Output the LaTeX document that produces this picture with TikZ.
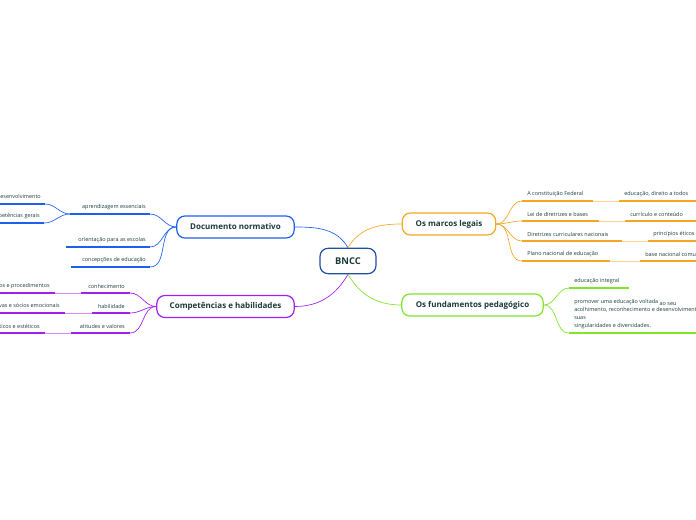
\documentclass[tikz,border=0pt]{standalone}
\usepackage{fontspec}
\setmainfont{Open Sans}
\definecolor{cblue}{HTML}{1F5FF0}
\definecolor{cpur}{HTML}{A020F0}
\definecolor{cora}{HTML}{F5A623}
\definecolor{cgre}{HTML}{7FE52A}
\definecolor{ctxt}{HTML}{1A3A3A}
\definecolor{cbn}{HTML}{1F4FA0}
\begin{document}
\begin{tikzpicture}[x=0.75pt,y=-0.75pt,
  main/.style={draw=#1,line width=0.9pt,rounded corners=6pt,fill=white,text=ctxt,font=\fontsize{6}{7}\selectfont\bfseries,minimum height=16.5pt,inner xsep=9pt},
  lt/.style={anchor=south east,inner sep=0pt,text=ctxt,font=\fontsize{4.1}{5.6}\selectfont},
  rt/.style={anchor=south west,inner sep=0pt,text=ctxt,font=\fontsize{4.1}{5.6}\selectfont},
  ul/.style={draw=#1,line width=1.5pt},
  con/.style={draw=#1,line width=0.5pt}]
\useasboundingbox (0,0) rectangle (696,520);
\clip (0,0) rectangle (696,520);
\node[main=cbn,font=\fontsize{7}{8}\selectfont\bfseries,minimum width=42pt,minimum height=19pt] (bn) at (348,261) {BNCC};
\node[main=cblue,minimum width=88pt] (dn) at (235.5,227) {Documento normativo};
\node[main=cpur,minimum width=103pt] (ch) at (225.5,306.5) {Competências e habilidades};
\node[main=cora,minimum width=70pt] (ml) at (449,224) {Os marcos legais};
\node[main=cgre,minimum width=106pt] (fp) at (472.5,305) {Os fundamentos pedagógico};
\draw[con=cblue] (bn.north) to[out=120,in=0] (dn.east);
\draw[con=cpur] (bn.south) to[out=240,in=0] (ch.east);
\draw[con=cora] (bn.north) to[out=60,in=180] (ml.west);
\draw[con=cgre] (bn.south) to[out=300,in=180] (fp.west);
% Documento normativo
\foreach \n/\xa/\xb/\y/\t in {a1/70/150/214/aprendizagem essenciais, a11/-60/45/204/direitos de aprendizagem e desenvolvimento, a12/-60/44/223/dez competências gerais, a2/66/150/247/orientação para as escolas, a3/71/150/267/concepções de educação}{
  \coordinate (\n w) at (\xa,\y); \coordinate (\n e) at (\xb,\y);
  \draw[ul=cblue] (\n w)--(\n e);
  \node[lt] (\n) at (\xb-4,\y-4) {\t};}
\foreach \n in {a1,a2,a3}{\draw[con=cblue] (dn.west) to[out=180,in=0] (\n e);}
\draw[con=cblue] (a1w) to[out=180,in=0] (a11e);
\draw[con=cblue] (a1w) to[out=180,in=0] (a12e);
% Competencias
\foreach \n/\xa/\xb/\y/\t in {b1/81/130/293/conhecimento, b2/92/130/313/habilidade, b3/71/130/333/atitudes e valores, b11/-60/55/293/conceitos e procedimentos, b21/-60/65/313/práticas cognitivas e sócios emocionais, b31/-60/45/333/valores éticos e estéticos}{
  \coordinate (\n w) at (\xa,\y); \coordinate (\n e) at (\xb,\y);
  \draw[ul=cpur] (\n w)--(\n e);
  \node[lt] (\n) at (\xb-5,\y-4) {\t};}
\foreach \n in {b1,b2,b3}{\draw[con=cpur] (ch.west) to[out=180,in=0] (\n e);}
\draw[con=cpur!50] (b1w)--(b11e);
\draw[con=cpur!50] (b2w)--(b21e);
\draw[con=cpur!50] (b3w)--(b31e);
% Marcos legais
\foreach \n/\xa/\xb/\y/\t in {m1/522/593/201/A constituição Federal, m2/522/599/221/Lei de diretrizes e bases, m3/522/622/241/Diretrizes curriculares nacionais, m4/522/610/261/Plano nacional de educação, m11/619/720/201/{educação, direito a todos}, m21/625/720/221/currículo e conteúdo, m31/648/720/241/princípios éticos, m41/640/720/261/base nacional comum}{
  \coordinate (\n w) at (\xa,\y); \coordinate (\n e) at (\xb,\y);
  \draw[ul=cora] (\n w)--(\n e);
  \node[rt] (\n) at (\xa+5,\y-4) {\t};}
\foreach \n in {m1,m2,m3,m4}{\draw[con=cora] (ml.east) to[out=0,in=180] (\n w);}
\foreach \n in {m1,m2,m3,m4}{\draw[con=cora!50] (\n e)--(\n1w);}
% Fundamentos
\coordinate (f1w) at (569,288); \coordinate (f1e) at (629,288);
\draw[ul=cgre] (f1w)--(f1e);
\node[rt] (f1) at (574,284) {educação integral};
\coordinate (f2w) at (569,333); \coordinate (f2e) at (720,333);
\draw[ul=cgre] (f2w)--(f2e);
\node[rt,align=left,font=\fontsize{4.1}{5.9}\selectfont] (f2) at (574,329) {promover uma educação voltada\raisebox{-1pt}{ ao seu}\\acolhimento, reconhecimento e desenvolvimento pleno\\suas\\singularidades e diversidades.};
\draw[con=cgre] (fp.east) to[out=0,in=180] (f1w);
\draw[con=cgre] (fp.east) to[out=0,in=180] (f2w);
\end{tikzpicture}
\end{document}
